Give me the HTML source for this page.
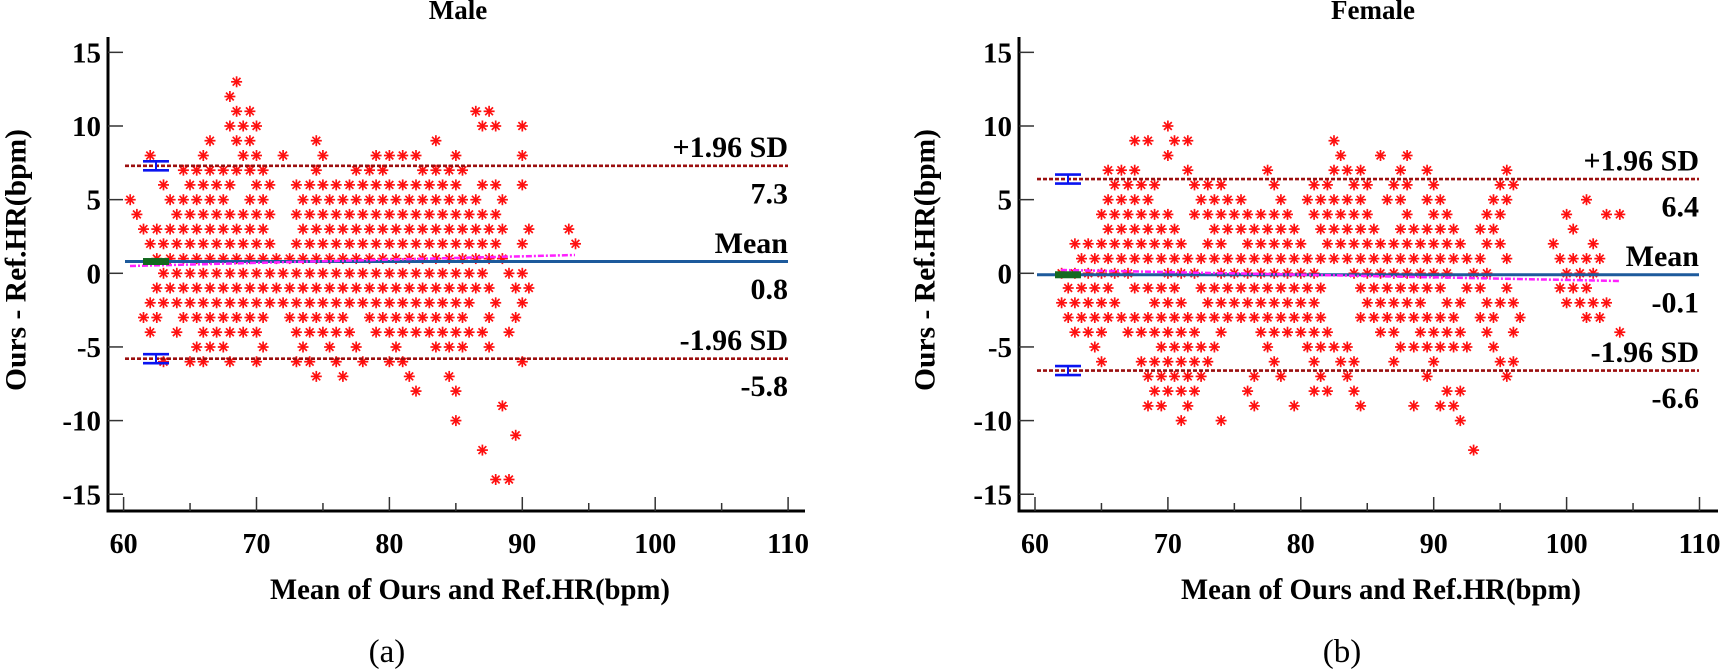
<!DOCTYPE html>
<html><head><meta charset="utf-8"><style>
html,body{margin:0;padding:0;background:#fff;width:1720px;height:671px;overflow:hidden}
svg{display:block}
svg text{font-family:"Liberation Serif","DejaVu Serif Condensed","DejaVu Serif","Times New Roman",serif;font-weight:bold;fill:#000}
</style></head><body>
<svg id="s" width="1720" height="671" viewBox="0 0 1720 671" xmlns="http://www.w3.org/2000/svg">
<defs>
<g id="m" stroke="#ff1010" stroke-width="1.7" fill="none">
<line x1="-5.5" y1="0" x2="5.5" y2="0"/><line x1="0" y1="-5.5" x2="0" y2="5.5"/>
<line x1="-3.9" y1="-3.9" x2="3.9" y2="3.9"/><line x1="-3.9" y1="3.9" x2="3.9" y2="-3.9"/>
</g>
</defs>
<g id="pts"></g>
<g id="ov"></g>
</svg>
<script>
var NS="http://www.w3.org/2000/svg";
var FF="'Liberation Serif', 'DejaVu Serif Condensed', 'DejaVu Serif', serif";
var pts=document.getElementById('pts'),ov=document.getElementById('ov');
function el(t,a,txt,p){var e=document.createElementNS(NS,t);for(var k in a)e.setAttribute(k,a[k]);
 if(t==='text'){e.setAttribute('font-family',FF);if(!a.style)e.setAttribute('font-weight','bold');}
 if(txt!==undefined&&txt!==null)e.textContent=txt;(p||ov).appendChild(e);return e;}
function Y(v){return 273.3-v*14.73;}
var male={
"13":"17","12":"16","11":"17,19,53,55","10":"16,18,20,54,56,60","9":"13,17,19,29,47",
"8":"4,12,18,20,24,30,38,40,42,44,50,60","7":"9-21,29,35-39,45-51",
"6":"6,10-16,20,22,26-50,54,56,60","5":"1,7-15,19,21,27-53,57","4":"2,8-22,26-56",
"3":"3-21,27-57,61,67","2":"4-22,26-56,60,68","1":"5-57","0":"6-54,58,60",
"-1":"5-55,59,61","-2":"4-52,56,60","-3":"3,5,9-21,25-33,37-51,55,59",
"-4":"4,8,12-20,26-34,38-54,58","-5":"11,13,15,21,27,31,35,41,47,49,51,55",
"-6":"6,10,12,16,20,26,28,32,36,40,42,60","-7":"29,33,43,49","-8":"44,50","-9":"57",
"-10":"50","-11":"59","-12":"54","-14":"56,58"};
var fem={
"10":"20","9":"15,17,21,23,45","8":"20,46,52,56","7":"11,13,15,23,35,45,47,49,55,59,71",
"6":"12-18,24-28,36,42,44,48,50,54,56,60,70,72",
"5":"11-17,25-31,37,41-49,53,55,59,61,69,71,83",
"4":"10-20,24-38,42-50,56,60,62,68,70,80,86,88",
"3":"11-21,27-39,43-51,55-63,67,69,81",
"2":"6-22,26,28,32-40,44-64,68,70,78,84","1":"7-67,71,79-85",
"0":"4,6,8-14,20-24,28-42,48-62,66,68,80-84",
"-1":"5-11,15-21,25-43,49-61,65,67,71,79-83",
"-2":"4-12,18-22,26-42,50-58,62,64,68-72,80-86",
"-3":"5-43,49-63,67,69,73,83,85",
"-4":"6-10,14-24,28,34-44,52,54,58-64,68,72,88",
"-5":"9,19-27,35,41-47,55-65,69","-6":"10,16-26,36,42,46,48,54,60,70,72",
"-7":"17-25,33,37,43,47,59,71","-8":"18-24,32,42,44,48,62,64",
"-9":"17,19,23,33,39,49,57,61,63","-10":"22,28,64","-12":"66"};
function plot(data,x0){
 for(var v in data){var y=Y(+v);data[v].split(',').forEach(function(s){
  var a=s.split('-'),lo=+a[0],hi=a.length>1?+a[1]:lo;
  for(var h=lo;h<=hi;h+=2){el('use',{href:'#m',x:(x0+h*6.645).toFixed(1),y:y.toFixed(1)},null,pts);}
 });}
}
plot(male,123.6);plot(fem,1035);

function panel(o){
 var ax=o.ax,x0=o.x0,xe=o.xe;
 el('line',{x1:ax,y1:37,x2:ax,y2:512,stroke:'#000','stroke-width':3});
 el('line',{x1:ax-1.5,y1:511,x2:xe,y2:511,stroke:'#000','stroke-width':3});
 for(var v=15;v>=-15;v-=5){var y=Y(v);
  el('line',{x1:ax,y1:y,x2:ax+15,y2:y,stroke:'#333','stroke-width':1.5});
  el('text',{x:ax-7,y:y+10,'font-size':29,'text-anchor':'end'},String(v));}
 for(var xv=60;xv<=110;xv+=5){var x=x0+(xv-60)*13.29,maj=xv%10==0;
  el('line',{x1:x,y1:511,x2:x,y2:maj?497:503,stroke:'#333','stroke-width':1.5});
  if(maj)el('text',{x:x,y:553,'font-size':29,'text-anchor':'middle',textLength:String(xv).length*14,lengthAdjust:'spacingAndGlyphs'},String(xv));}
 var right=o.right;
 el('line',{x1:o.lx,y1:Y(o.up),x2:right,y2:Y(o.up),stroke:'#9b0f0f','stroke-width':2.6,'stroke-dasharray':'4 2'});
 el('line',{x1:o.lx,y1:Y(o.lo),x2:right,y2:Y(o.lo),stroke:'#9b0f0f','stroke-width':2.6,'stroke-dasharray':'4 2'});
 el('line',{x1:o.lx,y1:Y(o.mean),x2:right,y2:Y(o.mean),stroke:'#1d5a9c','stroke-width':3});
 el('line',{x1:o.r1[0],y1:o.r1[1],x2:o.r2[0],y2:o.r2[1],stroke:'#ff20ff','stroke-width':2.5,'stroke-dasharray':'6 2 2 2'});
 [o.up,o.lo].forEach(function(v){var y=Y(v),a=o.eb;
  el('line',{x1:a,y1:y-4.5,x2:a+26,y2:y-4.5,stroke:'#0a14f0','stroke-width':2.6});
  el('line',{x1:a,y1:y+4.5,x2:a+26,y2:y+4.5,stroke:'#0a14f0','stroke-width':2.6});
  el('line',{x1:a+13,y1:y-4.5,x2:a+13,y2:y+4.5,stroke:'#0a14f0','stroke-width':2});});
 el('rect',{x:o.eb,y:Y(o.mean)-3.5,width:26,height:7,fill:'#13691f'});
 var L=[['+1.96 SD',Y(o.up)-8.7],[o.upt,Y(o.up)+37.5],['Mean',Y(o.mean)-8.7],[o.mt,Y(o.mean)+37.5],['-1.96 SD',Y(o.lo)-8.7],[o.lot,Y(o.lo)+37.5]];
 L.forEach(function(l){el('text',{x:right,y:l[1],'font-size':30,'text-anchor':'end'},l[0]);});
 el('text',{x:o.tx,y:19,'font-size':27,'text-anchor':'middle'},o.title);
 el('text',{x:o.xt,y:599,'font-size':30,'text-anchor':'middle',textLength:400,lengthAdjust:'spacingAndGlyphs'},'Mean of Ours and Ref.HR(bpm)');
 el('text',{x:o.yt,y:260,'font-size':30,'text-anchor':'middle','dominant-baseline':'central',transform:'rotate(-90 '+o.yt+' 260)',textLength:262,lengthAdjust:'spacingAndGlyphs'},'Ours - Ref.HR(bpm)');
 el('text',{x:o.pl,y:662,'font-size':33,'text-anchor':'middle',style:'font-weight:normal'},o.pt);
}
panel({ax:108,x0:123.6,xe:805,lx:125,right:788,up:7.3,lo:-5.8,mean:0.8,upt:'7.3',mt:'0.8',lot:'-5.8',
 r1:[130,266],r2:[575,255],eb:143,tx:458,xt:470,yt:16,pl:387,pt:'(a)',title:'Male'});
panel({ax:1019,x0:1035,xe:1718,lx:1037,right:1699,up:6.4,lo:-6.6,mean:-0.1,upt:'6.4',mt:'-0.1',lot:'-6.6',
 r1:[1061,270],r2:[1620,281],eb:1055,tx:1373,xt:1381,yt:925,pl:1342,pt:'(b)',title:'Female'});
</script>
</body></html>
